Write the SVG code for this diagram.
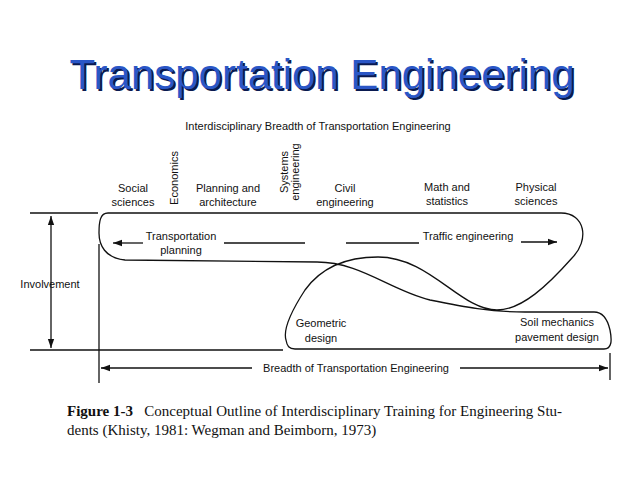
<svg xmlns="http://www.w3.org/2000/svg" width="638" height="478" viewBox="0 0 638 478">
<defs>
<marker id="ah" viewBox="0 0 10 10" refX="10" refY="5" markerWidth="7" markerHeight="7" orient="auto-start-reverse"><path d="M0,1.5 L10,5 L0,8.5 z" fill="#111"/></marker>
<style>
.t{font-family:"Liberation Sans",Arial,sans-serif;font-size:11px;fill:#111;text-anchor:middle}
.l{stroke:#111;stroke-width:1.3;fill:none}
.c{font-family:"Liberation Serif","Times New Roman",serif;font-size:15px;fill:#111}
</style>
</defs>
<rect width="638" height="478" fill="#fff"/>
<g id="title">
<text x="324" y="91" font-family="Liberation Sans,Arial,sans-serif" font-size="42" text-anchor="middle" fill="#0a1a50">Transportation Engineering</text>
<text x="322" y="89" font-family="Liberation Sans,Arial,sans-serif" font-size="42" text-anchor="middle" fill="#2a56c6">Transportation Engineering</text>
</g>
<g id="header"><text class="t" x="318" y="130">Interdisciplinary Breadth of Transportation Engineering</text></g>
<g id="disciplines">
<text class="t" x="133" y="192">Social</text><text class="t" x="133" y="206">sciences</text>
<text class="t" transform="translate(178,178) rotate(-90)">Economics</text>
<text class="t" x="228" y="192">Planning and</text><text class="t" x="228" y="206">architecture</text>
<text class="t" transform="translate(288,172) rotate(-90)">Systems</text>
<text class="t" transform="translate(299,172) rotate(-90)">engineering</text>
<text class="t" x="345" y="192">Civil</text><text class="t" x="345" y="206">engineering</text>
<text class="t" x="447" y="191">Math and</text><text class="t" x="447" y="205">statistics</text>
<text class="t" x="536" y="191">Physical</text><text class="t" x="536" y="205">sciences</text>
</g>
<g id="loop"><path class="l" d="M108,213 L561,213 C585,213 590,240 572,258 C548,285 522,310 497,310 C460,310 430,257 378,257 C340,257 318,272 305,290 C292,310 283,330 286,340 C287,346 289,349 295,349 L604,349 C612,349 612,340 610,330 C607,317 602,312 594,312 L525,312 C490,312 465,307 430,300 C390,290 360,262 317,262 L125,260 C105,258 99,245 99,233 C99,222 100,213 108,213 Z"/></g>
<g id="labels">
<text class="t" x="181" y="240">Transportation</text><text class="t" x="181" y="254">planning</text>
<text class="t" x="468" y="240">Traffic engineering</text>
<text class="t" x="321" y="327">Geometric</text><text class="t" x="321" y="342">design</text>
<text class="t" x="557" y="326">Soil mechanics</text><text class="t" x="557" y="341">pavement design</text>
<text class="t" x="50" y="288">Involvement</text>
<text class="t" x="356" y="372">Breadth of Transportation Engineering</text>
</g>
<g id="connectors">
<line class="l" x1="143" y1="243" x2="113" y2="243" marker-end="url(#ah)"/>
<line class="l" x1="224" y1="243" x2="305" y2="243"/>
<line class="l" x1="346" y1="243" x2="419" y2="243"/>
<line class="l" x1="521" y1="242" x2="557" y2="242" marker-end="url(#ah)"/>
<line class="l" x1="30" y1="213" x2="98" y2="213"/>
<line class="l" x1="30" y1="350" x2="283" y2="350"/>
<line class="l" x1="51" y1="216" x2="51" y2="348" marker-start="url(#ah)" marker-end="url(#ah)"/>
<line class="l" x1="99" y1="244" x2="99" y2="383"/>
<line class="l" x1="610" y1="353" x2="610" y2="380"/>
<line class="l" x1="101" y1="368" x2="252" y2="368" marker-start="url(#ah)"/>
<line class="l" x1="460" y1="368" x2="608" y2="368" marker-end="url(#ah)"/>
</g>
<g id="caption">
<text class="c" x="67" y="416" xml:space="preserve"><tspan font-weight="bold">Figure 1-3</tspan>   Conceptual Outline of Interdisciplinary Training for Engineering Stu-</text>
<text class="c" x="67" y="435">dents (Khisty, 1981: Wegman and Beimborn, 1973)</text>
</g>
</svg>
